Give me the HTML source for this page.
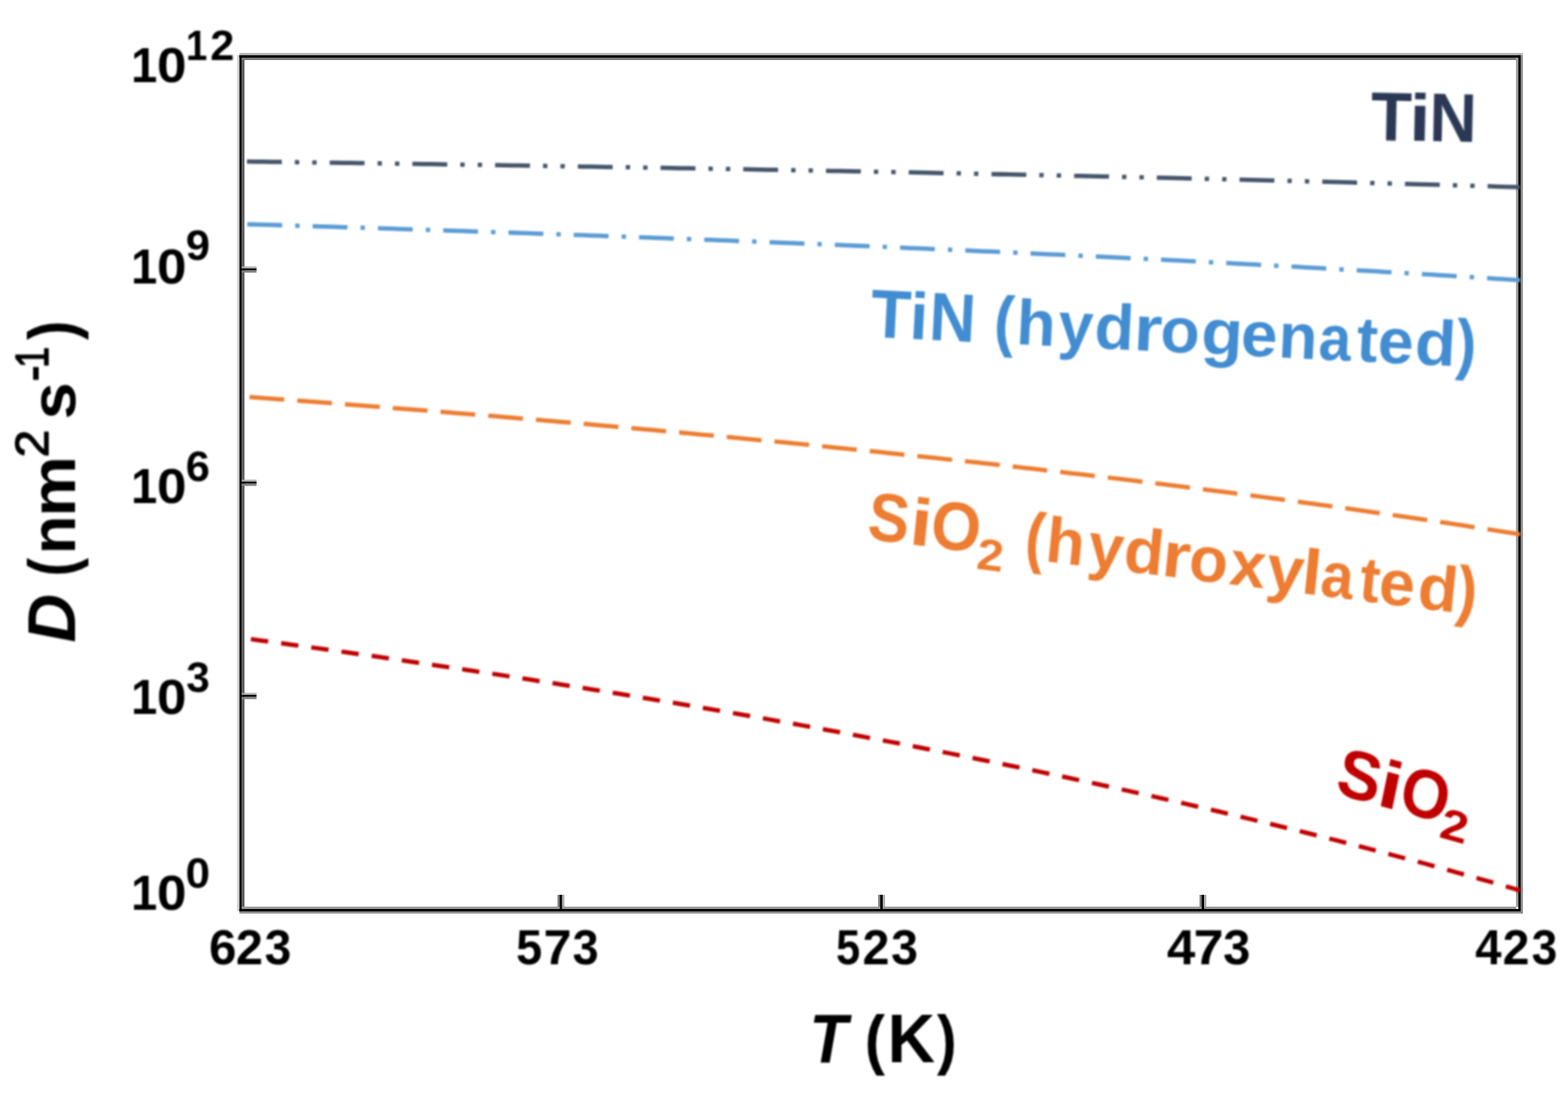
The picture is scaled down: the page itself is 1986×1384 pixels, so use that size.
<!DOCTYPE html><html><head><meta charset="utf-8"><title>Diffusion coefficient vs temperature</title><style>html,body{margin:0;padding:0;background:#fff;overflow:hidden}svg{display:block}</style></head><body><svg width="1986" height="1384" viewBox="0 0 1986 1384"><defs><filter id="soft" x="-2%" y="-2%" width="104%" height="104%"><feGaussianBlur stdDeviation="0.8"/></filter></defs><rect width="1986" height="1384" fill="#fff"/><rect x="300.4" y="69.9" width="3.0" height="1083.6" fill="#cfcfcf"/><rect x="303.3" y="69.9" width="3.1" height="1084.3" fill="#000"/><rect x="306.4" y="73" width="3.2" height="1078" fill="#585858"/><rect x="303.3" y="67.1" width="1625.5" height="2.8" fill="#b4b4b4"/><rect x="303.3" y="69.9" width="1622.7" height="3.1" fill="#000"/><rect x="306.4" y="73.0" width="1614" height="3.0" fill="#787878"/><rect x="1920.2" y="73" width="2.9" height="1075" fill="#9a9a9a"/><rect x="1923.1" y="69.9" width="2.9" height="1084.1" fill="#000"/><rect x="1926.0" y="69.9" width="2.8" height="1086.7" fill="#8a8a8a"/><rect x="306.4" y="1148.0" width="1614" height="3.0" fill="#9a9a9a"/><rect x="303.3" y="1151.0" width="1622.7" height="3.0" fill="#000"/><rect x="303.3" y="1154.0" width="1625.5" height="2.7" fill="#8a8a8a"/><rect x="306.4" y="337.4" width="18.5" height="2.4" fill="#b0b0b0"/><rect x="306.4" y="339.8" width="18.5" height="2.8" fill="#000"/><rect x="306.4" y="342.6" width="18.5" height="2.7" fill="#858585"/><rect x="306.4" y="607.4" width="18.5" height="2.4" fill="#b0b0b0"/><rect x="306.4" y="609.8" width="18.5" height="2.8" fill="#000"/><rect x="306.4" y="612.6" width="18.5" height="2.7" fill="#858585"/><rect x="306.4" y="877.4" width="18.5" height="2.4" fill="#b0b0b0"/><rect x="306.4" y="879.8" width="18.5" height="2.8" fill="#000"/><rect x="306.4" y="882.6" width="18.5" height="2.7" fill="#858585"/><rect x="706.1999999999999" y="1133" width="2.8" height="15" fill="#7a7a7a"/><rect x="708.9" y="1133" width="3.0" height="18" fill="#000"/><rect x="711.9" y="1133" width="2.9" height="15" fill="#aaaaaa"/><rect x="1112.3000000000002" y="1133" width="2.8" height="15" fill="#7a7a7a"/><rect x="1115.0" y="1133" width="3.0" height="18" fill="#000"/><rect x="1118.0" y="1133" width="2.9" height="15" fill="#aaaaaa"/><rect x="1519.4" y="1133" width="2.8" height="15" fill="#7a7a7a"/><rect x="1522.1" y="1133" width="3.0" height="18" fill="#000"/><rect x="1525.1" y="1133" width="2.9" height="15" fill="#aaaaaa"/><g filter="url(#soft)"><polyline points="312.8,204.51 322.9,204.64 333.1,204.78 343.2,204.92 353.4,205.07 363.5,205.21 373.7,205.35 383.8,205.49 393.9,205.64 404.1,205.78 414.2,205.92 424.4,206.07 434.5,206.22 444.7,206.36 454.8,206.51 464.9,206.66 475.1,206.80 485.2,206.95 495.4,207.10 505.5,207.25 515.7,207.40 525.8,207.55 535.9,207.71 546.1,207.86 556.2,208.01 566.4,208.17 576.5,208.32 586.7,208.48 596.8,208.63 606.9,208.79 617.1,208.95 627.2,209.10 637.4,209.26 647.5,209.42 657.7,209.58 667.8,209.74 677.9,209.90 688.1,210.06 698.2,210.23 708.4,210.39 718.5,210.55 728.7,210.72 738.8,210.89 748.9,211.05 759.1,211.22 769.2,211.39 779.4,211.55 789.5,211.72 799.7,211.89 809.8,212.07 819.9,212.24 830.1,212.41 840.2,212.58 850.4,212.76 860.5,212.93 870.7,213.11 880.8,213.28 890.9,213.46 901.1,213.64 911.2,213.82 921.4,214.00 931.5,214.18 941.7,214.36 951.8,214.54 961.9,214.72 972.1,214.91 982.2,215.09 992.4,215.28 1002.5,215.46 1012.7,215.65 1022.8,215.84 1032.9,216.03 1043.1,216.22 1053.2,216.41 1063.4,216.60 1073.5,216.79 1083.7,216.98 1093.8,217.18 1103.9,217.37 1114.1,217.57 1124.2,217.77 1134.4,217.96 1144.5,218.16 1154.6,218.36 1164.8,218.56 1174.9,218.77 1185.1,218.97 1195.2,219.17 1205.4,219.38 1215.5,219.58 1225.6,219.79 1235.8,220.00 1245.9,220.21 1256.1,220.42 1266.2,220.63 1276.4,220.84 1286.5,221.05 1296.6,221.27 1306.8,221.48 1316.9,221.70 1327.1,221.92 1337.2,222.14 1347.4,222.36 1357.5,222.58 1367.6,222.80 1377.8,223.02 1387.9,223.25 1398.1,223.47 1408.2,223.70 1418.4,223.93 1428.5,224.16 1438.6,224.39 1448.8,224.62 1458.9,224.85 1469.1,225.08 1479.2,225.32 1489.4,225.55 1499.5,225.79 1509.6,226.03 1519.8,226.27 1529.9,226.51 1540.1,226.75 1550.2,227.00 1560.4,227.24 1570.5,227.49 1580.6,227.74 1590.8,227.99 1600.9,228.24 1611.1,228.49 1621.2,228.74 1631.4,229.00 1641.5,229.25 1651.6,229.51 1661.8,229.77 1671.9,230.03 1682.1,230.29 1692.2,230.55 1702.4,230.82 1712.5,231.08 1722.6,231.35 1732.8,231.62 1742.9,231.89 1753.1,232.16 1763.2,232.43 1773.4,232.71 1783.5,232.99 1793.6,233.26 1803.8,233.54 1813.9,233.83 1824.1,234.11 1834.2,234.39 1844.4,234.68 1854.5,234.97 1864.6,235.26 1874.8,235.55 1884.9,235.84 1895.1,236.14 1905.2,236.43 1915.4,236.73 1925.5,237.03" fill="none" stroke="#44546A" stroke-width="5.515" stroke-dasharray="44.120 16.545 5.515 16.545 5.515 16.545" stroke-linecap="butt" stroke-linejoin="round"/>
<polyline points="313.3,283.91 323.4,284.21 333.6,284.52 343.7,284.83 353.9,285.13 364.0,285.44 374.1,285.75 384.3,286.06 394.4,286.38 404.6,286.69 414.7,287.00 424.8,287.32 435.0,287.64 445.1,287.96 455.3,288.28 465.4,288.60 475.5,288.92 485.7,289.25 495.8,289.57 506.0,289.90 516.1,290.23 526.2,290.56 536.4,290.89 546.5,291.22 556.7,291.56 566.8,291.89 576.9,292.23 587.1,292.57 597.2,292.91 607.3,293.25 617.5,293.59 627.6,293.94 637.8,294.28 647.9,294.63 658.0,294.98 668.2,295.33 678.3,295.68 688.5,296.03 698.6,296.39 708.7,296.74 718.9,297.10 729.0,297.46 739.2,297.82 749.3,298.18 759.4,298.55 769.6,298.92 779.7,299.28 789.9,299.65 800.0,300.02 810.1,300.39 820.3,300.77 830.4,301.14 840.6,301.52 850.7,301.90 860.8,302.28 871.0,302.66 881.1,303.05 891.3,303.44 901.4,303.82 911.5,304.21 921.7,304.60 931.8,305.00 942.0,305.39 952.1,305.79 962.2,306.19 972.4,306.59 982.5,306.99 992.7,307.39 1002.8,307.80 1012.9,308.21 1023.1,308.62 1033.2,309.03 1043.4,309.44 1053.5,309.86 1063.6,310.28 1073.8,310.70 1083.9,311.12 1094.1,311.54 1104.2,311.97 1114.3,312.40 1124.5,312.83 1134.6,313.26 1144.7,313.69 1154.9,314.13 1165.0,314.57 1175.2,315.01 1185.3,315.45 1195.4,315.89 1205.6,316.34 1215.7,316.79 1225.9,317.24 1236.0,317.69 1246.1,318.15 1256.3,318.61 1266.4,319.07 1276.6,319.53 1286.7,320.00 1296.8,320.46 1307.0,320.93 1317.1,321.40 1327.3,321.88 1337.4,322.35 1347.5,322.83 1357.7,323.32 1367.8,323.80 1378.0,324.29 1388.1,324.77 1398.2,325.27 1408.4,325.76 1418.5,326.26 1428.7,326.76 1438.8,327.26 1448.9,327.76 1459.1,328.27 1469.2,328.78 1479.4,329.29 1489.5,329.80 1499.6,330.32 1509.8,330.84 1519.9,331.37 1530.1,331.89 1540.2,332.42 1550.3,332.95 1560.5,333.49 1570.6,334.02 1580.8,334.56 1590.9,335.11 1601.0,335.65 1611.2,336.20 1621.3,336.75 1631.5,337.31 1641.6,337.87 1651.7,338.43 1661.9,338.99 1672.0,339.56 1682.1,340.13 1692.3,340.70 1702.4,341.28 1712.6,341.86 1722.7,342.44 1732.8,343.03 1743.0,343.62 1753.1,344.21 1763.3,344.81 1773.4,345.41 1783.5,346.01 1793.7,346.62 1803.8,347.23 1814.0,347.84 1824.1,348.46 1834.2,349.08 1844.4,349.70 1854.5,350.33 1864.7,350.96 1874.8,351.60 1884.9,352.24 1895.1,352.88 1905.2,353.53 1915.4,354.18 1925.5,354.83" fill="none" stroke="#5B9BD5" stroke-width="5.515" stroke-dasharray="44.120 16.545 5.515 16.545" stroke-linecap="butt" stroke-linejoin="round"/>
<polyline points="316.0,502.75 326.1,503.50 336.2,504.24 346.4,505.00 356.5,505.75 366.6,506.51 376.7,507.27 386.9,508.03 397.0,508.80 407.1,509.57 417.2,510.34 427.3,511.12 437.5,511.90 447.6,512.68 457.7,513.47 467.8,514.25 478.0,515.05 488.1,515.84 498.2,516.64 508.3,517.44 518.5,518.25 528.6,519.06 538.7,519.87 548.8,520.69 558.9,521.51 569.1,522.33 579.2,523.16 589.3,523.99 599.4,524.82 609.6,525.66 619.7,526.50 629.8,527.34 639.9,528.19 650.0,529.04 660.2,529.90 670.3,530.76 680.4,531.62 690.5,532.49 700.7,533.36 710.8,534.23 720.9,535.11 731.0,535.99 741.2,536.87 751.3,537.76 761.4,538.66 771.5,539.55 781.6,540.46 791.8,541.36 801.9,542.27 812.0,543.18 822.1,544.10 832.3,545.02 842.4,545.95 852.5,546.88 862.6,547.81 872.7,548.75 882.9,549.69 893.0,550.64 903.1,551.59 913.2,552.55 923.4,553.51 933.5,554.47 943.6,555.44 953.7,556.41 963.8,557.39 974.0,558.37 984.1,559.36 994.2,560.35 1004.3,561.35 1014.5,562.35 1024.6,563.35 1034.7,564.36 1044.8,565.38 1055.0,566.40 1065.1,567.42 1075.2,568.45 1085.3,569.48 1095.4,570.52 1105.6,571.57 1115.7,572.61 1125.8,573.67 1135.9,574.73 1146.1,575.79 1156.2,576.86 1166.3,577.94 1176.4,579.02 1186.5,580.10 1196.7,581.19 1206.8,582.29 1216.9,583.39 1227.0,584.49 1237.2,585.60 1247.3,586.72 1257.4,587.84 1267.5,588.97 1277.7,590.11 1287.8,591.25 1297.9,592.39 1308.0,593.54 1318.1,594.70 1328.3,595.86 1338.4,597.03 1348.5,598.21 1358.6,599.39 1368.8,600.57 1378.9,601.76 1389.0,602.96 1399.1,604.17 1409.2,605.38 1419.4,606.60 1429.5,607.82 1439.6,609.05 1449.7,610.29 1459.9,611.53 1470.0,612.78 1480.1,614.03 1490.2,615.29 1500.3,616.56 1510.5,617.84 1520.6,619.12 1530.7,620.41 1540.8,621.71 1551.0,623.01 1561.1,624.32 1571.2,625.64 1581.3,626.96 1591.5,628.29 1601.6,629.63 1611.7,630.97 1621.8,632.33 1631.9,633.69 1642.1,635.05 1652.2,636.43 1662.3,637.81 1672.4,639.20 1682.6,640.60 1692.7,642.01 1702.8,643.42 1712.9,644.84 1723.0,646.27 1733.2,647.71 1743.3,649.15 1753.4,650.61 1763.5,652.07 1773.7,653.54 1783.8,655.01 1793.9,656.50 1804.0,658.00 1814.2,659.50 1824.3,661.01 1834.4,662.53 1844.5,664.06 1854.6,665.60 1864.8,667.15 1874.9,668.71 1885.0,670.27 1895.1,671.85 1905.3,673.43 1915.4,675.03 1925.5,676.63" fill="none" stroke="#ED7D31" stroke-width="5.515" stroke-dasharray="44.120 16.545" stroke-linecap="butt" stroke-linejoin="round"/>
<polyline points="317.8,809.30 327.9,810.67 338.0,812.04 348.1,813.41 358.2,814.80 368.4,816.18 378.5,817.57 388.6,818.97 398.7,820.38 408.8,821.79 418.9,823.20 429.0,824.62 439.1,826.05 449.2,827.48 459.4,828.92 469.5,830.37 479.6,831.82 489.7,833.28 499.8,834.74 509.9,836.21 520.0,837.68 530.1,839.16 540.2,840.65 550.4,842.15 560.5,843.65 570.6,845.15 580.7,846.67 590.8,848.19 600.9,849.71 611.0,851.24 621.1,852.78 631.3,854.33 641.4,855.88 651.5,857.44 661.6,859.01 671.7,860.58 681.8,862.16 691.9,863.74 702.0,865.34 712.1,866.94 722.3,868.54 732.4,870.16 742.5,871.78 752.6,873.41 762.7,875.04 772.8,876.69 782.9,878.33 793.0,879.99 803.1,881.66 813.3,883.33 823.4,885.01 833.5,886.70 843.6,888.39 853.7,890.09 863.8,891.80 873.9,893.52 884.0,895.25 894.1,896.98 904.3,898.72 914.4,900.47 924.5,902.23 934.6,903.99 944.7,905.76 954.8,907.55 964.9,909.33 975.0,911.13 985.1,912.94 995.3,914.75 1005.4,916.58 1015.5,918.41 1025.6,920.25 1035.7,922.10 1045.8,923.95 1055.9,925.82 1066.0,927.70 1076.1,929.58 1086.3,931.47 1096.4,933.37 1106.5,935.29 1116.6,937.21 1126.7,939.13 1136.8,941.07 1146.9,943.02 1157.0,944.98 1167.2,946.94 1177.3,948.92 1187.4,950.91 1197.5,952.90 1207.6,954.91 1217.7,956.92 1227.8,958.95 1237.9,960.98 1248.0,963.03 1258.2,965.08 1268.3,967.15 1278.4,969.22 1288.5,971.31 1298.6,973.40 1308.7,975.51 1318.8,977.63 1328.9,979.76 1339.0,981.90 1349.2,984.04 1359.3,986.21 1369.4,988.38 1379.5,990.56 1389.6,992.75 1399.7,994.96 1409.8,997.17 1419.9,999.40 1430.0,1001.64 1440.2,1003.89 1450.3,1006.15 1460.4,1008.43 1470.5,1010.71 1480.6,1013.01 1490.7,1015.32 1500.8,1017.64 1510.9,1019.98 1521.0,1022.32 1531.2,1024.68 1541.3,1027.05 1551.4,1029.44 1561.5,1031.84 1571.6,1034.25 1581.7,1036.67 1591.8,1039.10 1601.9,1041.55 1612.0,1044.01 1622.2,1046.49 1632.3,1048.98 1642.4,1051.48 1652.5,1054.00 1662.6,1056.53 1672.7,1059.07 1682.8,1061.63 1692.9,1064.20 1703.1,1066.79 1713.2,1069.39 1723.3,1072.00 1733.4,1074.63 1743.5,1077.28 1753.6,1079.94 1763.7,1082.61 1773.8,1085.30 1783.9,1088.01 1794.1,1090.73 1804.2,1093.46 1814.3,1096.22 1824.4,1098.98 1834.5,1101.77 1844.6,1104.57 1854.7,1107.38 1864.8,1110.21 1874.9,1113.06 1885.1,1115.93 1895.2,1118.81 1905.3,1121.71 1915.4,1124.62 1925.5,1127.56" fill="none" stroke="#C00000" stroke-width="5.515" stroke-dasharray="22.060 16.545" stroke-linecap="butt" stroke-linejoin="round"/>
<g transform="translate(0.00,103.50) rotate(0)"><text class="t" style="font-family:'Liberation Sans',Arial,sans-serif;font-weight:bold" fill="#000"><tspan x="165.94" y="0.00" style="font-size:63.0px" textLength="33.23" lengthAdjust="spacingAndGlyphs">1</tspan><tspan x="198.73" y="0.00" style="font-size:63.0px" textLength="37.54" lengthAdjust="spacingAndGlyphs">0</tspan></text></g><g transform="translate(0.00,76.10) rotate(0)"><text class="t" style="font-family:'Liberation Sans',Arial,sans-serif;font-weight:bold" fill="#000"><tspan x="235.53" y="0.00" style="font-size:54.0px" textLength="27.13" lengthAdjust="spacingAndGlyphs">1</tspan><tspan x="266.29" y="0.00" style="font-size:54.0px" textLength="30.61" lengthAdjust="spacingAndGlyphs">2</tspan></text></g>
<g transform="translate(0.00,358.85) rotate(0)"><text class="t" style="font-family:'Liberation Sans',Arial,sans-serif;font-weight:bold" fill="#000"><tspan x="165.94" y="0.00" style="font-size:63.0px" textLength="33.23" lengthAdjust="spacingAndGlyphs">1</tspan><tspan x="198.73" y="0.00" style="font-size:63.0px" textLength="37.54" lengthAdjust="spacingAndGlyphs">0</tspan></text></g><g transform="translate(0.00,329.45) rotate(0)"><text class="t" style="font-family:'Liberation Sans',Arial,sans-serif;font-weight:bold" fill="#000"><tspan x="235.28" y="0.00" style="font-size:54.0px" textLength="30.77" lengthAdjust="spacingAndGlyphs">9</tspan></text></g>
<g transform="translate(0.00,636.95) rotate(0)"><text class="t" style="font-family:'Liberation Sans',Arial,sans-serif;font-weight:bold" fill="#000"><tspan x="165.94" y="0.00" style="font-size:63.0px" textLength="33.23" lengthAdjust="spacingAndGlyphs">1</tspan><tspan x="198.73" y="0.00" style="font-size:63.0px" textLength="37.54" lengthAdjust="spacingAndGlyphs">0</tspan></text></g><g transform="translate(0.00,608.60) rotate(0)"><text class="t" style="font-family:'Liberation Sans',Arial,sans-serif;font-weight:bold" fill="#000"><tspan x="235.28" y="0.00" style="font-size:54.0px" textLength="30.60" lengthAdjust="spacingAndGlyphs">6</tspan></text></g>
<g transform="translate(0.00,904.20) rotate(0)"><text class="t" style="font-family:'Liberation Sans',Arial,sans-serif;font-weight:bold" fill="#000"><tspan x="165.94" y="0.00" style="font-size:63.0px" textLength="33.23" lengthAdjust="spacingAndGlyphs">1</tspan><tspan x="198.73" y="0.00" style="font-size:63.0px" textLength="37.54" lengthAdjust="spacingAndGlyphs">0</tspan></text></g><g transform="translate(0.00,875.60) rotate(0)"><text class="t" style="font-family:'Liberation Sans',Arial,sans-serif;font-weight:bold" fill="#000"><tspan x="236.07" y="0.00" style="font-size:54.0px" textLength="29.76" lengthAdjust="spacingAndGlyphs">3</tspan></text></g>
<g transform="translate(0.00,1151.60) rotate(0)"><text class="t" style="font-family:'Liberation Sans',Arial,sans-serif;font-weight:bold" fill="#000"><tspan x="165.94" y="0.00" style="font-size:63.0px" textLength="33.23" lengthAdjust="spacingAndGlyphs">1</tspan><tspan x="198.73" y="0.00" style="font-size:63.0px" textLength="37.54" lengthAdjust="spacingAndGlyphs">0</tspan></text></g><g transform="translate(0.00,1123.70) rotate(0)"><text class="t" style="font-family:'Liberation Sans',Arial,sans-serif;font-weight:bold" fill="#000"><tspan x="235.09" y="0.00" style="font-size:54.0px" textLength="31.11" lengthAdjust="spacingAndGlyphs">0</tspan></text></g>
<g transform="translate(0.00,1220.50) rotate(0)"><text class="t" style="font-family:'Liberation Sans',Arial,sans-serif;font-weight:bold" fill="#000"><tspan x="264.81" y="0.00" style="font-size:63.5px" textLength="34.75" lengthAdjust="spacingAndGlyphs">6</tspan><tspan x="298.76" y="0.00" style="font-size:63.5px" textLength="34.31" lengthAdjust="spacingAndGlyphs">2</tspan><tspan x="335.21" y="0.00" style="font-size:63.5px" textLength="33.79" lengthAdjust="spacingAndGlyphs">3</tspan></text></g>
<g transform="translate(0.00,1220.50) rotate(0)"><text class="t" style="font-family:'Liberation Sans',Arial,sans-serif;font-weight:bold" fill="#000"><tspan x="653.78" y="0.00" style="font-size:63.5px" textLength="32.97" lengthAdjust="spacingAndGlyphs">5</tspan><tspan x="688.46" y="0.00" style="font-size:63.5px" textLength="35.44" lengthAdjust="spacingAndGlyphs">7</tspan><tspan x="725.34" y="0.00" style="font-size:63.5px" textLength="33.01" lengthAdjust="spacingAndGlyphs">3</tspan></text></g>
<g transform="translate(0.00,1220.50) rotate(0)"><text class="t" style="font-family:'Liberation Sans',Arial,sans-serif;font-weight:bold" fill="#000"><tspan x="1059.11" y="0.00" style="font-size:63.5px" textLength="30.51" lengthAdjust="spacingAndGlyphs">5</tspan><tspan x="1092.48" y="0.00" style="font-size:63.5px" textLength="34.08" lengthAdjust="spacingAndGlyphs">2</tspan><tspan x="1128.80" y="0.00" style="font-size:63.5px" textLength="34.01" lengthAdjust="spacingAndGlyphs">3</tspan></text></g>
<g transform="translate(0.00,1220.50) rotate(0)"><text class="t" style="font-family:'Liberation Sans',Arial,sans-serif;font-weight:bold" fill="#000"><tspan x="1478.02" y="0.00" style="font-size:63.5px" textLength="36.03" lengthAdjust="spacingAndGlyphs">4</tspan><tspan x="1511.66" y="0.00" style="font-size:63.5px" textLength="38.05" lengthAdjust="spacingAndGlyphs">7</tspan><tspan x="1549.18" y="0.00" style="font-size:63.5px" textLength="34.46" lengthAdjust="spacingAndGlyphs">3</tspan></text></g>
<g transform="translate(0.00,1220.50) rotate(0)"><text class="t" style="font-family:'Liberation Sans',Arial,sans-serif;font-weight:bold" fill="#000"><tspan x="1868.49" y="0.00" style="font-size:63.5px" textLength="33.33" lengthAdjust="spacingAndGlyphs">4</tspan><tspan x="1903.28" y="0.00" style="font-size:63.5px" textLength="33.96" lengthAdjust="spacingAndGlyphs">2</tspan><tspan x="1940.06" y="0.00" style="font-size:63.5px" textLength="32.45" lengthAdjust="spacingAndGlyphs">3</tspan></text></g>
<g transform="translate(1030.00,1345.20) rotate(0)"><text style="font-family:'Liberation Sans',Arial,sans-serif;font-weight:bold" fill="#000"><tspan x="-4.78" y="0.00" style="font-size:87.0px;font-style:italic" textLength="48.14" lengthAdjust="spacingAndGlyphs">T</tspan><tspan> </tspan><tspan x="65.27" y="0.00" style="font-size:84.0px" textLength="25.60" lengthAdjust="spacingAndGlyphs">(</tspan><tspan x="94.33" y="0.00" style="font-size:87.0px" textLength="60.14" lengthAdjust="spacingAndGlyphs">K</tspan><tspan x="156.63" y="0.00" style="font-size:84.0px" textLength="25.01" lengthAdjust="spacingAndGlyphs">)</tspan></text></g>
<g transform="translate(95.00,812.20) rotate(-90)"><text style="font-family:'Liberation Sans',Arial,sans-serif;font-weight:bold" fill="#000"><tspan x="-1.50" y="0.00" style="font-size:86.0px;font-style:italic" textLength="61.72" lengthAdjust="spacingAndGlyphs">D</tspan><tspan> </tspan><tspan x="82.29" y="0.00" style="font-size:84.0px" textLength="23.48" lengthAdjust="spacingAndGlyphs">(</tspan><tspan x="110.29" y="0.00" style="font-size:80.0px" textLength="49.21" lengthAdjust="spacingAndGlyphs">n</tspan><tspan x="157.78" y="0.00" style="font-size:80.0px" textLength="77.09" lengthAdjust="spacingAndGlyphs">m</tspan><tspan x="233.03" y="-34.50" style="font-size:60.0px;font-weight:normal;stroke:#000;stroke-width:1.6px;stroke-linejoin:round" textLength="35.04" lengthAdjust="spacingAndGlyphs">2</tspan><tspan> </tspan><tspan x="280.91" y="0.00" style="font-size:80.0px" textLength="47.27" lengthAdjust="spacingAndGlyphs">s</tspan><tspan x="328.81" y="-34.50" style="font-size:59.0px" textLength="21.25" lengthAdjust="spacingAndGlyphs">-</tspan><tspan x="346.13" y="-34.50" style="font-size:60.0px;font-weight:normal;stroke:#000;stroke-width:1.6px;stroke-linejoin:round" textLength="26.83" lengthAdjust="spacingAndGlyphs">1</tspan><tspan x="381.83" y="0.00" style="font-size:84.0px" textLength="24.54" lengthAdjust="spacingAndGlyphs">)</tspan></text></g>
<g transform="translate(1735.00,176.96) rotate(1.2)"><text style="font-family:'Liberation Sans',Arial,sans-serif;font-weight:bold" fill="#2A3954"><tspan x="0.78" y="0.00" style="font-size:86.5px" textLength="51.87" lengthAdjust="spacingAndGlyphs">T</tspan><tspan x="49.48" y="0.00" style="font-size:84.0px" textLength="26.79" lengthAdjust="spacingAndGlyphs">i</tspan><tspan x="74.63" y="0.00" style="font-size:86.5px" textLength="60.27" lengthAdjust="spacingAndGlyphs">N</tspan></text></g>
<g transform="translate(1100.00,426.40) rotate(2.87)"><text style="font-family:'Liberation Sans',Arial,sans-serif;font-weight:bold" fill="#428DD1"><tspan x="1.55" y="0.00" style="font-size:86.5px" textLength="50.95" lengthAdjust="spacingAndGlyphs">T</tspan><tspan x="51.19" y="0.00" style="font-size:84.0px" textLength="23.42" lengthAdjust="spacingAndGlyphs">i</tspan><tspan x="75.74" y="0.00" style="font-size:86.5px" textLength="58.94" lengthAdjust="spacingAndGlyphs">N</tspan><tspan> </tspan><tspan x="158.29" y="0.00" style="font-size:85.0px" textLength="25.42" lengthAdjust="spacingAndGlyphs">(</tspan><tspan x="186.45" y="0.00" style="font-size:81.0px" textLength="49.75" lengthAdjust="spacingAndGlyphs">h</tspan><tspan x="239.48" y="0.00" style="font-size:81.0px" textLength="44.11" lengthAdjust="spacingAndGlyphs">y</tspan><tspan x="285.63" y="0.00" style="font-size:81.0px" textLength="50.15" lengthAdjust="spacingAndGlyphs">d</tspan><tspan x="335.34" y="0.00" style="font-size:81.0px" textLength="35.94" lengthAdjust="spacingAndGlyphs">r</tspan><tspan x="369.12" y="0.00" style="font-size:81.0px" textLength="49.71" lengthAdjust="spacingAndGlyphs">o</tspan><tspan x="421.15" y="0.00" style="font-size:81.0px" textLength="52.62" lengthAdjust="spacingAndGlyphs">g</tspan><tspan x="471.28" y="0.00" style="font-size:81.0px" textLength="46.24" lengthAdjust="spacingAndGlyphs">e</tspan><tspan x="518.94" y="0.00" style="font-size:81.0px" textLength="49.29" lengthAdjust="spacingAndGlyphs">n</tspan><tspan x="569.98" y="0.00" style="font-size:81.0px" textLength="41.04" lengthAdjust="spacingAndGlyphs">a</tspan><tspan x="618.13" y="0.00" style="font-size:81.0px" textLength="26.71" lengthAdjust="spacingAndGlyphs">t</tspan><tspan x="644.76" y="0.00" style="font-size:81.0px" textLength="45.32" lengthAdjust="spacingAndGlyphs">e</tspan><tspan x="691.91" y="0.00" style="font-size:81.0px" textLength="52.10" lengthAdjust="spacingAndGlyphs">d</tspan><tspan x="744.25" y="0.00" style="font-size:85.0px" textLength="25.54" lengthAdjust="spacingAndGlyphs">)</tspan></text></g>
<g transform="translate(1100.00,682.60) rotate(7.13) skewX(1.4)"><text style="font-family:'Liberation Sans',Arial,sans-serif;font-weight:bold" fill="#ED7D31"><tspan x="-2.76" y="0.00" style="font-size:86.5px" textLength="52.23" lengthAdjust="spacingAndGlyphs">S</tspan><tspan x="50.30" y="0.00" style="font-size:84.0px" textLength="28.41" lengthAdjust="spacingAndGlyphs">i</tspan><tspan x="77.28" y="0.00" style="font-size:86.5px" textLength="63.46" lengthAdjust="spacingAndGlyphs">O</tspan><tspan x="138.83" y="20.30" style="font-size:56.0px" textLength="33.72" lengthAdjust="spacingAndGlyphs">2</tspan><tspan> </tspan><tspan x="197.99" y="0.00" style="font-size:85.0px" textLength="24.42" lengthAdjust="spacingAndGlyphs">(</tspan><tspan x="224.23" y="0.00" style="font-size:81.0px" textLength="49.40" lengthAdjust="spacingAndGlyphs">h</tspan><tspan x="278.21" y="0.00" style="font-size:81.0px" textLength="45.04" lengthAdjust="spacingAndGlyphs">y</tspan><tspan x="323.91" y="0.00" style="font-size:81.0px" textLength="50.65" lengthAdjust="spacingAndGlyphs">d</tspan><tspan x="372.54" y="0.00" style="font-size:81.0px" textLength="35.95" lengthAdjust="spacingAndGlyphs">r</tspan><tspan x="407.18" y="0.00" style="font-size:81.0px" textLength="49.35" lengthAdjust="spacingAndGlyphs">o</tspan><tspan x="459.05" y="0.00" style="font-size:81.0px" textLength="45.61" lengthAdjust="spacingAndGlyphs">x</tspan><tspan x="506.04" y="0.00" style="font-size:81.0px" textLength="47.42" lengthAdjust="spacingAndGlyphs">y</tspan><tspan x="550.68" y="0.00" style="font-size:81.0px" textLength="25.18" lengthAdjust="spacingAndGlyphs">l</tspan><tspan x="575.45" y="0.00" style="font-size:81.0px" textLength="41.32" lengthAdjust="spacingAndGlyphs">a</tspan><tspan x="624.77" y="0.00" style="font-size:81.0px" textLength="25.51" lengthAdjust="spacingAndGlyphs">t</tspan><tspan x="649.50" y="0.00" style="font-size:81.0px" textLength="45.62" lengthAdjust="spacingAndGlyphs">e</tspan><tspan x="699.21" y="0.00" style="font-size:81.0px" textLength="50.65" lengthAdjust="spacingAndGlyphs">d</tspan><tspan x="748.80" y="0.00" style="font-size:85.0px" textLength="25.61" lengthAdjust="spacingAndGlyphs">)</tspan></text></g>
<g transform="translate(1690.00,1004.40) rotate(15.5) skewX(3.8)"><text style="font-family:'Liberation Sans',Arial,sans-serif;font-weight:bold" fill="#C00000"><tspan x="-0.38" y="0.00" style="font-size:86.5px" textLength="55.47" lengthAdjust="spacingAndGlyphs">S</tspan><tspan x="53.39" y="0.00" style="font-size:84.0px" textLength="30.34" lengthAdjust="spacingAndGlyphs">i</tspan><tspan x="82.69" y="0.00" style="font-size:86.5px" textLength="62.28" lengthAdjust="spacingAndGlyphs">O</tspan><tspan x="140.20" y="18.20" style="font-size:55.0px" textLength="35.30" lengthAdjust="spacingAndGlyphs">2</tspan></text></g></g></svg></body></html>
